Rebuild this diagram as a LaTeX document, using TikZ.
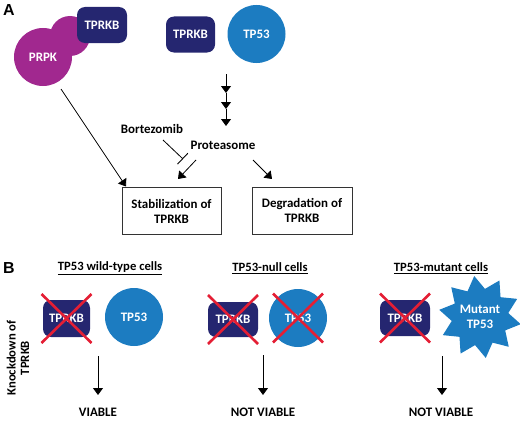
\documentclass[tikz,border=0pt]{standalone}
\usepackage{fontspec}
\setmainfont{Carlito}
\newfontfamily\panelfont{Liberation Sans}
\usepackage{xcolor}
\usepackage{tikz}
\usetikzlibrary{shapes,shapes.geometric,arrows.meta,positioning,calc}

\definecolor{navy}{RGB}{37,38,112}
\definecolor{tpblue}{RGB}{28,124,193}
\definecolor{prpkpurple}{RGB}{161,40,143}
\definecolor{koRed}{RGB}{228,30,52}

\newcommand{\knockout}[1]{%
  \draw[koline] ($(#1)+(-25,24.5)$) -- ($(#1)+(25,-24.5)$);
  \draw[koline] ($(#1)+(25,24.5)$) -- ($(#1)+(-25,-24.5)$);}

\begin{document}
\begin{tikzpicture}[x=1bp, y=1bp,
  txt/.style={font=\fontsize{13}{15}\selectfont\bfseries, inner sep=0pt},
  tprkb/.style={rectangle, rounded corners=8bp, fill=navy, text=white,
    minimum width=49bp, minimum height=36bp, txt},
  tpcirc/.style={circle, fill=tpblue, text=white, minimum size=58bp, txt},
  outbox/.style={draw=black!80, line width=0.8bp, minimum width=99bp,
    minimum height=47bp, align=center, txt, font=\fontsize{13}{15}\selectfont\bfseries},
  arr/.style={-{Triangle[width=10bp,length=7bp]}, line width=0.8bp},
  inhib/.style={-{Bar[width=15bp,line width=0.9bp]}, line width=0.8bp},
  koline/.style={draw=koRed, line width=2.6bp},
  title/.style={txt, font=\fontsize{12.7}{14}\selectfont\bfseries}]
  \useasboundingbox (0,0) rectangle (520,420);

  % Panel A
  \node[font=\panelfont\fontsize{16}{18}\selectfont\bfseries, inner sep=0pt] (pa) at (9,410) {A};

  % PRPK / TPRKB complex
  \node[circle, fill=prpkpurple, minimum size=40bp] (prpkb) at (70,384) {};
  \node[circle, fill=prpkpurple, text=white, minimum size=58bp, txt] (prpk) at (43,363) {PRPK};
  \node[tprkb, minimum width=50bp] (cplx) at (102,395) {TPRKB};

  % free TPRKB and TP53
  \node[tprkb] (freeb) at (190.5,385.5) {TPRKB};
  \node[tpcirc] (freep) at (256.5,386) {TP53};

  % chain to the proteasome
  \coordinate (c0) at (226,346);
  \coordinate (c1) at (226,327);
  \coordinate (c2) at (226,311);
  \coordinate (c3) at (226,294);
  \draw[arr] (c0) -- (c1);
  \draw[arr] (c1) -- (c2);
  \draw[arr] (c2) -- (c3);

  \node[txt] (bort) at (152,291) {Bortezomib};
  \node[txt] (prot) at (223,275) {Proteasome};

  % outcome boxes
  \node[outbox] (stab) at (171.5,209) {Stabilization of\\TPRKB};
  \node[outbox, minimum width=100bp] (degr) at (302,209.5) {Degradation of\\TPRKB};

  \draw[arr] ($(prpk)+(18,-32)$) -- ($(stab)+(-45.5,24.5)$);
  \draw[inhib] ($(bort)+(11,-11)$) -- ($(stab)+(11.5,52)$);
  \draw[arr] ($(prot)+(-27,-15)$) -- ($(stab)+(6.5,32)$);
  \draw[arr] ($(prot)+(30,-15)$) -- ($(degr)+(-30,31.5)$);

  % Panel B
  \node[font=\panelfont\fontsize{16}{18}\selectfont\bfseries, inner sep=0pt] (pb) at (9,152) {B};
  \node[title] (t1) at (110,152) {\underline{TP53 wild-type cells}};
  \node[title] (t2) at (270,152) {\underline{TP53-null cells}};
  \node[title] (t3) at (441,152) {\underline{TP53-mutant cells}};
  \node[title, rotate=90, align=center, font=\fontsize{12.7}{13.5}\selectfont\bfseries] (kd) at (18,62) {Knockdown of\\TPRKB};

  % wild-type
  \node[tprkb, minimum width=47bp, minimum height=37bp] (b1) at (66.5,101.5) {TPRKB};
  \node[tpcirc] (p1) at (134,103) {TP53};
  \knockout{b1}

  % null
  \node[tprkb, minimum width=50bp, minimum height=35bp] (b2) at (233,100.5) {TPRKB};
  \node[tpcirc] (p2) at (298,102) {TP53};
  \knockout{b2}
  \knockout{p2}

  % mutant
  \node[tprkb, minimum width=50bp] (b3) at (405,102) {TPRKB};
  \node[star, star points=10, star point ratio=1.45, fill=tpblue, text=white,
    minimum size=72bp, inner sep=0pt, align=center, txt,
    shape border rotate=8] (p3) at (480,103) {Mutant\\TP53};
  \knockout{b3}

  % outcomes
  \node[txt] (v1) at (98,8) {VIABLE};
  \node[txt] (v2) at (263,8) {NOT VIABLE};
  \node[txt] (v3) at (441,8) {NOT VIABLE};
  \coordinate (a1) at (98,64);
  \coordinate (a2) at (263,65);
  \coordinate (a3) at (442,64);
  \draw[arr] (a1) -- ($(v1)+(0,17)$);
  \draw[arr] (a2) -- ($(v2)+(0,17)$);
  \draw[arr] (a3) -- ($(v3)+(1,17)$);
\end{tikzpicture}
\end{document}
